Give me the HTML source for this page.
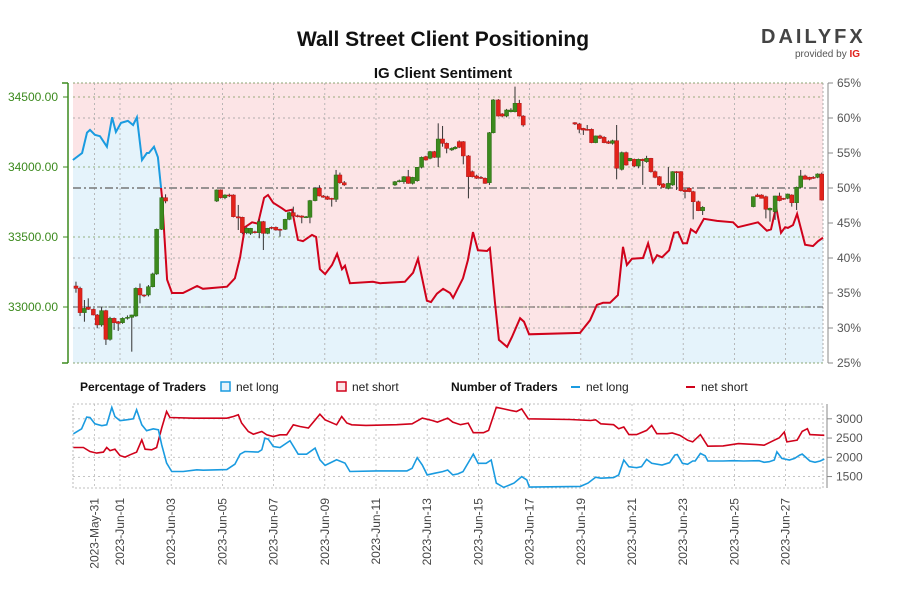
<!DOCTYPE html>
<html><head><meta charset="utf-8"><style>
body{margin:0;background:#fff;}
svg{display:block;font-family:"Liberation Sans",sans-serif;}
</style></head><body>
<svg id="chart" width="900" height="600" viewBox="0 0 900 600">
<text x="443" y="46" text-anchor="middle" font-size="21" font-weight="bold" fill="#111">Wall Street Client Positioning</text>
<text x="443" y="78" text-anchor="middle" font-size="15" font-weight="bold" fill="#111">IG Client Sentiment</text>
<g>
<text x="761" y="43" font-size="20" font-weight="bold" fill="#444" letter-spacing="3">DAILYFX</text>
<text x="795" y="57" font-size="10" fill="#555">provided by <tspan fill="#e0201b" font-weight="bold">IG</tspan></text>
</g>
<g id="main"></g>
<g id="legend">
<text x="80" y="391" font-size="12" font-weight="bold" fill="#111">Percentage of Traders</text>
<rect x="221" y="382" width="9" height="9" fill="#e5f3fb" stroke="#1a9be0" stroke-width="1.5"/>
<text x="236" y="391" font-size="12" fill="#222">net long</text>
<rect x="337" y="382" width="9" height="9" fill="#fce4e6" stroke="#d0021b" stroke-width="1.5"/>
<text x="352" y="391" font-size="12" fill="#222">net short</text>
<text x="451" y="391" font-size="12" font-weight="bold" fill="#111">Number of Traders</text>
<line x1="571" y1="387" x2="580" y2="387" stroke="#1a9be0" stroke-width="2"/>
<text x="586" y="391" font-size="12" fill="#222">net long</text>
<line x1="686" y1="387" x2="695" y2="387" stroke="#d0021b" stroke-width="2"/>
<text x="701" y="391" font-size="12" fill="#222">net short</text>
</g>
<g id="bottom"></g>
</svg>
<script>
// ---- data ----
const pctDays=[-1.84,-1.48,-1.29,-1.17,-0.98,-0.78,-0.51,-0.31,-0.16,0.04,0.31,0.51,0.66,0.86,1.05,1.13,1.33,1.48,1.64,1.84,2.03,2.46,3.01,3.24,4.18,4.49,4.69,4.88,5.16,5.39,5.63,5.78,5.98,6.33,6.48,6.72,6.95,7.15,7.50,7.66,7.81,8.01,8.28,8.48,8.67,8.79,8.98,9.88,10.16,11.13,11.45,11.64,11.99,12.15,12.38,12.62,12.89,13.01,13.40,13.59,13.79,13.98,14.34,14.45,14.65,14.80,15.12,15.31,15.63,15.78,15.98,17.97,18.36,18.63,18.87,19.14,19.45,19.65,19.80,20.00,20.43,20.63,20.82,20.98,21.17,21.45,21.64,21.80,21.99,22.15,22.30,22.50,22.81,23.32,23.95,24.14,24.92,25.27,25.43,25.63,25.82,25.98,26.09,26.29,26.45,26.76,27.07,27.27,27.46];
const pctNetLong=[54.0,55.0,57.9,58.3,57.6,57.4,55.9,60.1,58.0,59.3,59.6,59.0,60.1,54.0,55.0,55.0,55.9,54.4,48.7,36.9,35.0,35.0,36.0,35.6,35.9,37.1,40.1,44.4,45.1,44.9,48.6,49.0,47.9,47.1,46.7,46.9,42.6,42.4,43.3,43.0,38.4,37.7,39.0,40.6,38.4,38.9,36.4,36.6,36.4,36.6,37.9,39.9,33.9,33.7,34.9,35.6,35.0,34.3,37.1,39.7,43.7,41.1,41.0,41.4,33.6,28.3,27.3,28.7,31.4,30.9,29.1,29.3,31.1,33.3,33.6,33.6,34.7,41.6,39.0,39.9,40.0,42.1,39.4,40.4,40.1,41.1,43.6,43.7,42.1,42.1,44.1,43.6,45.6,45.3,45.1,44.4,45.1,43.9,44.1,47.3,43.6,44.4,44.3,44.7,46.3,41.9,41.7,42.4,42.9];

const candleDays=[-1.72,-1.56,-1.39,-1.24,-1.04,-0.89,-0.72,-0.55,-0.39,-0.23,-0.07,0.10,0.29,0.46,0.62,0.78,0.94,1.11,1.28,1.43,1.63,1.78,3.78,3.93,4.10,4.27,4.43,4.62,4.78,4.95,5.10,5.27,5.44,5.60,5.77,5.92,6.09,6.25,6.45,6.61,6.77,6.94,7.10,7.27,7.42,7.62,7.79,7.94,8.10,8.27,8.44,8.59,8.76,10.74,10.91,11.09,11.26,11.43,11.61,11.78,11.95,12.11,12.28,12.43,12.60,12.76,12.96,13.09,13.25,13.41,13.61,13.76,13.93,14.10,14.26,14.43,14.58,14.78,14.93,15.10,15.27,15.43,15.60,15.75,17.77,17.94,18.10,18.25,18.42,18.58,18.75,18.91,19.08,19.24,19.40,19.60,19.77,19.92,20.09,20.25,20.42,20.57,20.74,20.90,21.07,21.22,21.42,21.59,21.74,21.91,22.07,22.24,22.39,22.59,22.76,24.74,24.90,25.06,25.23,25.39,25.59,25.76,25.91,26.08,26.24,26.43,26.59,26.76,26.93,27.08,27.25,27.41];
const candleOpen=[33150,33133,32960,32998,32983,32943,32872,32974,32769,32919,32895,32888,32919,32926,32936,33133,33086,33086,33145,33236,33555,33781,33757,33836,33781,33800,33800,33645,33641,33531,33526,33538,33531,33610,33526,33569,33569,33555,33555,33626,33674,33652,33650,33641,33641,33760,33848,33793,33788,33776,33769,33943,33888,33872,33895,33895,33931,33883,33902,33998,34074,34062,34110,34069,34200,34169,34122,34131,34181,34181,34079,33967,33936,33926,33919,33888,34245,34479,34379,34364,34395,34395,34455,34364,34317,34307,34276,34269,34269,34174,34222,34212,34181,34169,34188,33983,34103,34045,34055,34007,34055,34038,34062,33967,33931,33879,33848,33872,33967,33967,33836,33848,33824,33752,33688,33717,33800,33800,33788,33693,33681,33793,33776,33776,33800,33745,33855,33936,33926,33926,33926,33950];
const candleHigh=[33181,33145,33050,33062,32990,32950,32998,32980,32930,32925,32900,32926,32940,32945,33140,33168,33090,33157,33245,33560,33788,33805,33840,33840,33805,33810,33805,33729,33645,33570,33565,33545,33627,33615,33565,33575,33575,33560,33630,33680,33717,33660,33655,33650,33765,33855,33870,33800,33795,33780,33979,33960,33900,33900,33910,33935,33979,33930,34000,34075,34080,34115,34115,34312,34293,34175,34140,34150,34190,34185,34085,33975,33945,33935,33925,34250,34485,34485,34385,34415,34420,34574,34480,34370,34320,34315,34280,34300,34275,34225,34230,34220,34190,34195,34300,34110,34110,34065,34060,34060,34060,34080,34065,33975,33935,33885,34000,33970,33970,33970,33845,33855,33830,33760,33720,33790,33810,33805,33795,33710,33795,33817,33780,33810,33805,33860,33979,33945,33930,33935,33955,33960];
const candleLow=[33102,32936,32895,32979,32940,32848,32860,32729,32760,32836,32829,32880,32910,32681,32930,33026,33070,33075,33140,33230,33550,33741,33750,33775,33770,33785,33640,33550,33520,33520,33515,33525,33491,33407,33520,33555,33545,33503,33550,33620,33645,33640,33598,33635,33598,33755,33790,33780,33765,33717,33750,33880,33865,33865,33890,33880,33880,33875,33895,33990,34045,34055,34065,34000,34145,34098,34115,34125,34135,34019,33776,33925,33915,33915,33880,33872,34240,34360,34355,34355,34390,34390,34360,34288,34300,34241,34229,34260,34170,34170,34200,34170,34165,34160,33912,33975,34010,34040,34000,33991,33872,34030,33960,33920,33865,33850,33840,33865,33836,33825,33776,33820,33626,33685,33657,33712,33785,33775,33633,33610,33622,33755,33765,33770,33717,33693,33850,33910,33905,33915,33920,33760];
const candleClose=[33133,32960,32990,32983,32943,32872,32974,32769,32919,32888,32883,32919,32926,32943,33133,33086,33079,33145,33236,33555,33781,33757,33836,33781,33800,33793,33645,33636,33531,33562,33562,33531,33610,33526,33562,33562,33550,33550,33626,33674,33650,33645,33641,33645,33760,33848,33793,33784,33769,33769,33943,33888,33872,33895,33902,33931,33883,33926,33998,34069,34050,34110,34069,34200,34169,34133,34133,34141,34141,34079,33931,33931,33919,33919,33883,34245,34479,34364,34364,34407,34407,34455,34364,34300,34307,34269,34264,34264,34174,34222,34205,34174,34169,34188,33991,34103,34014,34062,34007,34055,34045,34062,33967,33926,33872,33855,33883,33967,33960,33831,33824,33824,33752,33688,33712,33788,33788,33776,33698,33705,33793,33760,33769,33807,33745,33855,33936,33912,33912,33919,33950,33764];

const cntLongDays=[-1.82,-1.50,-1.30,-1.17,-0.98,-0.71,-0.52,-0.32,-0.20,0,0.26,0.52,0.65,0.85,1.04,1.30,1.50,1.63,1.82,2.02,2.47,3.00,3.25,4.17,4.49,4.69,4.88,5.40,5.54,5.66,5.79,5.99,6.25,6.64,6.96,7.29,7.62,7.81,8.01,8.46,8.79,8.98,10.01,11.21,11.41,11.61,11.81,12.00,12.30,12.60,12.80,13.00,13.20,13.40,13.80,13.99,14.30,14.50,14.70,14.99,15.39,15.69,15.89,15.99,17.98,18.28,18.58,18.78,19.28,19.48,19.68,19.88,20.18,20.37,20.57,20.77,21.17,21.47,21.67,21.77,21.97,22.17,22.37,22.47,22.67,22.86,22.96,23.56,23.96,24.36,24.96,25.16,25.36,25.56,25.66,25.85,26.15,26.35,26.55,26.65,26.95,27.15,27.35,27.51];
const cntLongVals=[2610,2740,3045,3035,2870,2820,2845,3295,3060,2950,2975,3000,3235,2845,2690,2740,2715,2325,1850,1630,1630,1675,1665,1680,1820,2080,2150,2135,2195,2500,2470,2280,2255,2430,2080,2080,2240,1935,1790,1935,1850,1630,1646,1646,1714,1989,1800,1543,1586,1629,1671,1543,1569,1629,2083,1843,1843,1929,1329,1217,1329,1500,1414,1226,1243,1329,1483,1457,1474,1543,1929,1757,1731,1757,1946,1843,1800,1860,2057,2074,1843,1817,1903,1903,2100,2040,1903,1903,1912,1903,1912,1869,1886,1929,2143,1972,1929,1972,2057,2083,1903,1869,1903,1954];
const cntShortDays=[-1.82,-1.43,-1.17,-0.91,-0.65,-0.52,-0.39,-0.20,0,0.20,0.39,0.65,0.85,0.98,1.24,1.43,1.63,1.82,1.95,2.86,4.17,4.43,4.62,4.75,5.01,5.21,5.54,5.73,5.99,6.25,6.51,6.77,7.03,7.36,7.81,8.01,8.46,8.66,8.86,9.05,9.61,10.81,11.41,11.81,12.20,12.40,12.80,13.00,13.30,13.60,13.80,14.20,14.40,14.70,14.99,15.29,15.49,15.69,15.95,17.58,18.38,18.58,18.78,19.28,19.48,19.68,19.88,20.18,20.57,20.77,20.97,21.37,21.57,21.87,22.17,22.37,22.67,22.96,23.56,24.16,24.86,25.16,25.56,25.75,25.95,26.05,26.45,26.65,26.85,26.95,27.51];
const cntShortVals=[2255,2255,2150,2110,2135,2255,2175,2210,2045,2005,2065,2135,2455,2210,2195,2255,2760,3190,3035,3015,3015,3060,3105,2890,2670,2600,2670,2585,2540,2585,2585,2845,2800,2760,3120,2975,2845,3060,2890,2845,2829,2846,2871,3017,2957,2914,3017,2914,2846,2889,2640,2640,2700,3300,3257,3214,3189,3257,3000,2983,2957,2974,2871,2846,2743,2786,2589,2589,2700,2829,2614,2614,2631,2571,2443,2400,2589,2289,2297,2357,2331,2314,2443,2503,2657,2400,2443,2674,2743,2589,2571];

const tickDays=[-1,0,2,4,6,8,10,12,14,16,18,20,22,24,26];
const tickLabels=["2023-May-31","2023-Jun-01","2023-Jun-03","2023-Jun-05","2023-Jun-07","2023-Jun-09","2023-Jun-11","2023-Jun-13","2023-Jun-15","2023-Jun-17","2023-Jun-19","2023-Jun-21","2023-Jun-23","2023-Jun-25","2023-Jun-27"];
const priceTicks=[34500,34000,33500,33000];
const pctTicks=[65,60,55,50,45,40,35,30,25];
const cntTicks=[3000,2500,2000,1500];

// ---- scales ----
const L=73,R=823,T=83,B=363;
const xs=d=>120+d*25.6;
const yP=p=>167-(p-34000)*0.14;
const yPct=v=>T+(65-v)*7;
const yC=v=>418.8+(3000-v)*0.0385;
const NS="http://www.w3.org/2000/svg";
function mk(tag,attrs,parent){const e=document.createElementNS(NS,tag);for(const k in attrs)e.setAttribute(k,attrs[k]);parent.appendChild(e);return e;}
const main=document.getElementById('main');
const bottom=document.getElementById('bottom');

const defs=mk('defs',{},main);
const c1=mk('clipPath',{id:'clipAbove'},defs);mk('rect',{x:0,y:0,width:900,height:yPct(50)},c1);
const c2=mk('clipPath',{id:'clipBelow'},defs);mk('rect',{x:0,y:yPct(50),width:900,height:400},c2);
const c3=mk('clipPath',{id:'clipPlot'},defs);mk('rect',{x:L,y:T,width:R-L,height:B-T},c3);

let bg=mk('rect',{x:L,y:T,width:R-L,height:B-T,fill:'#fce4e6'},main);

let pts=pctDays.map((d,i)=>xs(d).toFixed(1)+','+yPct(pctNetLong[i]).toFixed(1));
let area=mk('polygon',{points:xs(pctDays[0])+','+B+' '+pts.join(' ')+' '+xs(pctDays[pctDays.length-1])+','+B,fill:'#e5f3fb','clip-path':'url(#clipPlot)'},main);


[34500,34000,33500,33000].forEach(p=>{mk('line',{x1:L,x2:R,y1:yP(p),y2:yP(p),stroke:'#7a9a5a','stroke-width':0.8,'stroke-dasharray':'2,3'},main);});
[60,40,30].forEach(v=>{mk('line',{x1:L,x2:R,y1:yPct(v),y2:yPct(v),stroke:'#999','stroke-width':0.8,'stroke-dasharray':'2,3'},main);});
mk('line',{x1:L,x2:R,y1:T,y2:T,stroke:'#6a8a4a','stroke-width':0.8,'stroke-dasharray':'2,2'},main);
mk('line',{x1:L,x2:R,y1:B,y2:B,stroke:'#6a8a4a','stroke-width':0.8,'stroke-dasharray':'2,2'},main);
mk('line',{x1:R,x2:R,y1:T,y2:B,stroke:'#999','stroke-width':0.8,'stroke-dasharray':'2,2'},main);
tickDays.forEach(d=>{mk('line',{x1:xs(d),x2:xs(d),y1:T,y2:B,stroke:'#aaa','stroke-width':0.8,'stroke-dasharray':'2,3'},main);});
let l50=mk('line',{x1:L,x2:R,y1:yPct(50),y2:yPct(50),stroke:'#777','stroke-width':1.6,'stroke-dasharray':'8,3,2,3'},main);

mk('line',{x1:L,x2:R,y1:yP(33000),y2:yP(33000),stroke:'#333','stroke-width':0.8,'stroke-dasharray':'6,2,2,2'},main);

const lineD='M'+pts.join(' L');
let lb=mk('path',{d:lineD,fill:'none',stroke:'#1a9be0','stroke-width':2,'clip-path':'url(#clipAbove)'},main);

let lr=mk('path',{d:lineD,fill:'none',stroke:'#d0021b','stroke-width':2,'clip-path':'url(#clipBelow)'},main);


candleDays.forEach((d,i)=>{
  const x=xs(d),o=candleOpen[i],c=candleClose[i];
  const up=c>=o;
  const g=mk('g',{},main);
  
  
  mk('line',{x1:x,x2:x,y1:yP(candleHigh[i]),y2:yP(candleLow[i]),stroke:'#333','stroke-width':1},g);
  const top=yP(Math.max(o,c)),bot=yP(Math.min(o,c));
  mk('rect',{x:x-2,y:top,width:4,height:Math.max(1,bot-top),fill:up?'#3c8a1e':'#e2231a',stroke:up?'#2a6a12':'#b0151a','stroke-width':0.5},g);
});

mk('line',{x1:68,x2:68,y1:T,y2:B,stroke:'#3c8a1e','stroke-width':1.5},main);
mk('line',{x1:62,x2:68,y1:B,y2:B,stroke:'#3c8a1e','stroke-width':1.5},main);
mk('line',{x1:62,x2:68,y1:T,y2:T,stroke:'#3c8a1e','stroke-width':1.5},main);
priceTicks.forEach(p=>{
  mk('line',{x1:63,x2:68,y1:yP(p),y2:yP(p),stroke:'#3c8a1e','stroke-width':1},main);
  const t=mk('text',{x:58,y:yP(p)+4,'text-anchor':'end','font-size':12,fill:'#3c8a1e'},main);
  t.textContent=p.toFixed(2);
  
  
});
mk('line',{x1:828,x2:828,y1:T,y2:B,stroke:'#888','stroke-width':1},main);
pctTicks.forEach(v=>{
  mk('line',{x1:828,x2:833,y1:yPct(v),y2:yPct(v),stroke:'#888','stroke-width':1},main);
  const t=mk('text',{x:837,y:yPct(v)+4,'font-size':12,fill:'#555'},main);
  t.textContent=v+'%';
  
  
});

const BT=404,BB=488;
mk('rect',{x:L,y:BT,width:R-L,height:BB-BT,fill:'#fff',stroke:'#aaa','stroke-width':0.8,'stroke-dasharray':'2,2'},bottom);
cntTicks.forEach(v=>{mk('line',{x1:L,x2:R,y1:yC(v),y2:yC(v),stroke:'#bbb','stroke-width':0.8,'stroke-dasharray':'2,3'},bottom);});
tickDays.forEach(d=>{mk('line',{x1:xs(d),x2:xs(d),y1:BT,y2:BB,stroke:'#bbb','stroke-width':0.8,'stroke-dasharray':'2,3'},bottom);});
mk('line',{x1:827,x2:827,y1:BT,y2:BB,stroke:'#888','stroke-width':1},bottom);
cntTicks.forEach(v=>{
  mk('line',{x1:827,x2:832,y1:yC(v),y2:yC(v),stroke:'#888','stroke-width':1},bottom);
  const t=mk('text',{x:836,y:yC(v)+4,'font-size':12,fill:'#555'},bottom);
  t.textContent=v;
  
  
});
let sl=mk('path',{d:'M'+cntShortDays.map((d,i)=>xs(d).toFixed(1)+','+yC(cntShortVals[i]).toFixed(1)).join(' L'),fill:'none',stroke:'#d0021b','stroke-width':1.6},bottom);

let bl=mk('path',{d:'M'+cntLongDays.map((d,i)=>xs(d).toFixed(1)+','+yC(cntLongVals[i]).toFixed(1)).join(' L'),fill:'none',stroke:'#1a9be0','stroke-width':1.6},bottom);

tickDays.forEach((d,i)=>{
  const x=xs(d)+4,y=498;
  const t=mk('text',{x:x,y:y,'text-anchor':'end','font-size':12,fill:'#444',transform:'rotate(-90 '+x+' '+y+')'},bottom);
  t.textContent=tickLabels[i];
  
  
});
</script>
</body></html>
